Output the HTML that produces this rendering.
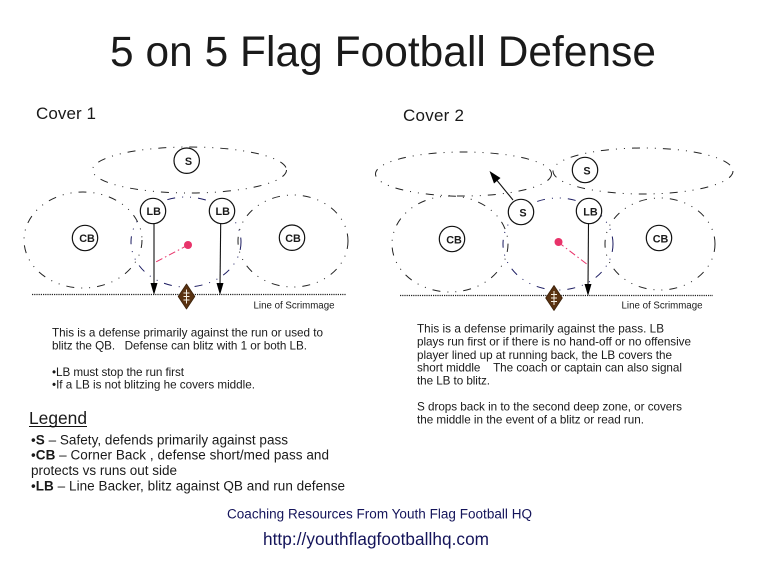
<!DOCTYPE html>
<html><head><meta charset="utf-8"><style>
html,body{margin:0;padding:0;background:#fff;width:768px;height:576px;overflow:hidden}
svg{display:block;filter:blur(.3px)}
text{font-family:"Liberation Sans",sans-serif;fill:#1a1a1a}
.z{fill:none;stroke:#222;stroke-width:1;stroke-dasharray:8 7 1 7 1 7}
.m{fill:none;stroke:#1a1a60;stroke-width:1;stroke-dasharray:8 7 1 7 1 7}
.p{fill:#fff;stroke:#111;stroke-width:1.2}
.l{font-size:10.8px;font-weight:bold;text-anchor:middle}
.b{font-size:11.7px}
.g{font-size:13.5px}
.ln{stroke:#111;stroke-width:1.1}
.los{stroke:#222;stroke-width:1.2;stroke-dasharray:1.2 1}
.pk{stroke:#e8336a;stroke-width:1;stroke-dasharray:7 3 1.5 3;fill:none}
.n{fill:#14145a}
</style></head><body>
<svg width="768" height="576" viewBox="0 0 768 576" xmlns="http://www.w3.org/2000/svg">
<defs>
<g id="fb"><path d="M0,-12.5 L8.3,0 L0,12.5 L-8.3,0Z" fill="#5a3210" stroke="#3a220c" stroke-width=".8" stroke-linejoin="round"/>
<path d="M0,-7V7M-3,-3.5H3M-3,0H3M-3,3.5H3" stroke="#f6f0e4" stroke-width="1" fill="none"/></g>
</defs>

<text x="110" y="66" font-size="42.4" textLength="546">5 on 5 Flag Football Defense</text>
<text x="36" y="119" font-size="17" textLength="60">Cover 1</text>
<text x="403" y="121" font-size="17" textLength="61">Cover 2</text>

<!-- Cover 1 -->
<ellipse class="z" cx="189.5" cy="170" rx="97" ry="23"/>
<ellipse class="z" cx="83" cy="240" rx="59" ry="48"/>
<ellipse class="m" cx="186" cy="242" rx="55" ry="45"/>
<ellipse class="z" cx="293" cy="241" rx="55" ry="46"/>
<line class="los" x1="32" y1="294.5" x2="346" y2="294.5"/>
<line class="pk" x1="188" y1="245" x2="154" y2="263"/>
<circle cx="188" cy="245" r="4" fill="#e8336a"/>
<circle class="p" cx="186.7" cy="160.7" r="12.7"/><text class="l" x="188.5" y="165">S</text>
<circle class="p" cx="153" cy="211" r="12.7"/><text class="l" x="153.7" y="215.2">LB</text>
<circle class="p" cx="222" cy="211" r="12.7"/><text class="l" x="222.7" y="215.2">LB</text>
<circle class="p" cx="85" cy="238" r="12.7"/><text class="l" x="87" y="242.2">CB</text>
<circle class="p" cx="292" cy="237.7" r="12.7"/><text class="l" x="293" y="241.8">CB</text>
<line class="ln" x1="154" y1="223" x2="154" y2="286"/><path d="M150.5,283H157.5L154,295Z" fill="#000"/>
<line class="ln" x1="220.7" y1="223" x2="220" y2="286"/><path d="M216.5,283H223.5L220,295Z" fill="#000"/>
<use href="#fb" x="186.5" y="296.5"/>
<text x="253.5" y="308.5" font-size="9.7" textLength="81">Line of Scrimmage</text>

<!-- Cover 2 -->
<ellipse class="z" cx="463.5" cy="174" rx="88" ry="22"/>
<ellipse class="z" cx="643" cy="171" rx="90" ry="23"/>
<ellipse class="z" cx="450" cy="244" rx="58" ry="48"/>
<ellipse class="m" cx="558" cy="244" rx="55" ry="46"/>
<ellipse class="z" cx="660" cy="244" rx="55" ry="46"/>
<line class="los" x1="400" y1="295.5" x2="713" y2="295.5"/>
<line class="pk" x1="558" y1="242" x2="588" y2="265"/>
<circle cx="558.5" cy="242" r="4" fill="#e8336a"/>
<circle class="p" cx="585" cy="170" r="12.7"/><text class="l" x="587" y="174.3">S</text>
<circle class="p" cx="521" cy="212" r="12.7"/><text class="l" x="523" y="216.3">S</text>
<circle class="p" cx="589" cy="211" r="12.7"/><text class="l" x="590.5" y="215.5">LB</text>
<circle class="p" cx="452" cy="239" r="12.7"/><text class="l" x="454" y="243.5">CB</text>
<circle class="p" cx="659" cy="238" r="12.7"/><text class="l" x="660.5" y="242.5">CB</text>
<line class="ln" x1="588.5" y1="223" x2="588" y2="287"/><path d="M584.5,284H591.5L588,296Z" fill="#000"/>
<line class="ln" x1="513" y1="200" x2="495" y2="178"/><path d="M489.5,171 L500.5,178 L494,183.5Z" fill="#000"/>
<use href="#fb" x="554" y="298"/>
<text x="621.5" y="308.5" font-size="9.7" textLength="81">Line of Scrimmage</text>

<!-- Cover 1 text -->
<text class="b" x="52" y="336.7" textLength="271">This is a defense primarily against the run or used to</text>
<text class="b" x="52" y="349.7" textLength="255" xml:space="preserve">blitz the QB.   Defense can blitz with 1 or both LB.</text>
<text class="b" x="52" y="376" textLength="132">•LB must stop the run first</text>
<text class="b" x="52" y="388.7" textLength="203">•If a LB is not blitzing he covers middle.</text>

<!-- Cover 2 text -->
<text class="b" x="417" y="332.5" textLength="247">This is a defense primarily against the pass.  LB</text>
<text class="b" x="417" y="345.5" textLength="274">plays run first or if there is no hand-off or no offensive</text>
<text class="b" x="417" y="359" textLength="255">player lined up at running back, the LB covers the</text>
<text class="b" x="417" y="371.7" textLength="265" xml:space="preserve">short middle    The coach or captain can also signal</text>
<text class="b" x="417" y="384.5" textLength="73">the LB to blitz.</text>
<text class="b" x="417" y="410.7" textLength="265">S drops back in to the second deep zone, or covers</text>
<text class="b" x="417" y="423.7" textLength="227">the middle in the event of a blitz or read run.</text>

<!-- Legend -->
<text x="29" y="424" font-size="17.4" textLength="58">Legend</text>
<line x1="29" y1="426.5" x2="87" y2="426.5" stroke="#111" stroke-width="1"/>
<text class="g" x="31" y="444.5" textLength="257">•<tspan font-weight="bold">S</tspan> – Safety, defends primarily against pass</text>
<text class="g" x="31" y="459.5" textLength="298">•<tspan font-weight="bold">CB</tspan> – Corner Back , defense short/med pass and</text>
<text class="g" x="31" y="475" textLength="146">protects vs runs out side</text>
<text class="g" x="31" y="490.5" textLength="314">•<tspan font-weight="bold">LB</tspan> – Line Backer, blitz against QB and run defense</text>

<!-- Footer -->
<text class="n" x="227" y="518.5" font-size="13.5" textLength="305">Coaching Resources From Youth Flag Football HQ</text>
<text class="n" x="263" y="545" font-size="17.2" textLength="226">http://youthflagfootballhq.com</text>
</svg>
</body></html>
